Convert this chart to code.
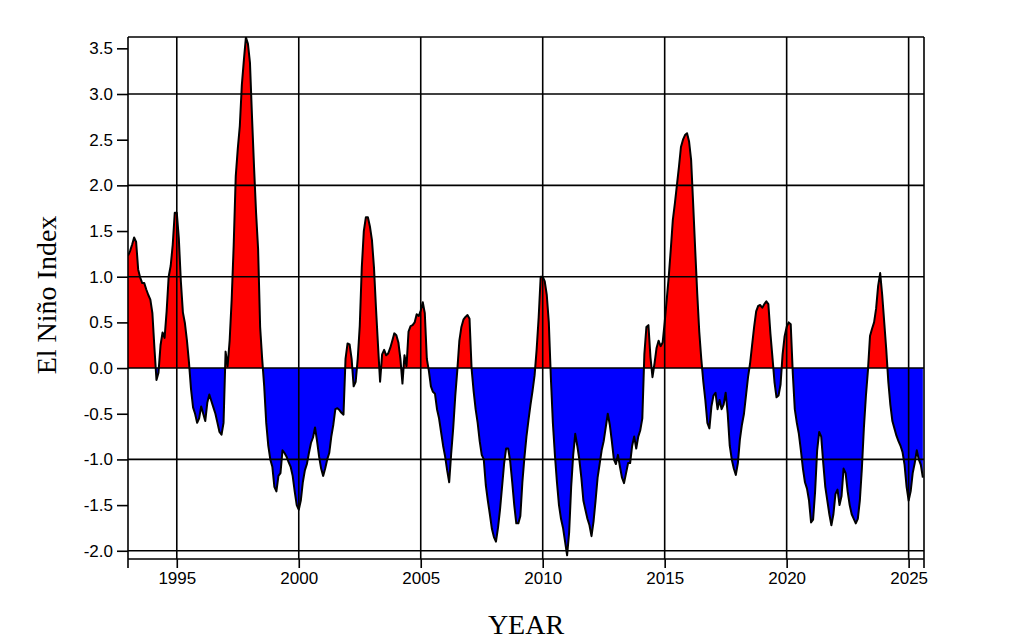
<!DOCTYPE html>
<html lang="en">
  <head>
    <meta charset="UTF-8" />
    <title>El Niño Index</title>
    <style>
      body {
        margin: 0;
        background: #fff;
      }
      .tick text {
        font-family: "Liberation Sans", Arial, sans-serif;
        font-size: 17px;
        fill: #000;
      }
      .title {
        font-family: "Liberation Serif", "Times New Roman", serif;
        font-size: 28px;
        fill: #000;
      }
    </style>
  </head>
  <body>
    <div class="chart"></div>

    <script src="https://d3js.org/d3.v7.min.js"></script>

    <script>
      // monthly index, first value = Jan 1993
      const startYear = 1993;
      const ninoIndex = [
        1.23, 1.28, 1.35, 1.43, 1.38, 1.08, 0.99, 0.93, 0.93, 0.86, 0.8, 0.75,
        0.6, 0.22, -0.13, -0.05, 0.25, 0.39, 0.33, 0.62, 1.0, 1.12, 1.35, 1.7,
        1.7, 1.42, 0.95, 0.61, 0.49, 0.3, 0.06, -0.23, -0.43, -0.5, -0.6, -0.55,
        -0.42, -0.5, -0.58, -0.38, -0.29, -0.36, -0.43, -0.5, -0.6, -0.7, -0.73, -0.6,
        0.18, 0.02, 0.3, 0.75, 1.35, 2.1, 2.4, 2.65, 3.1, 3.37, 3.62, 3.55,
        3.34, 2.75, 2.2, 1.7, 1.3, 0.45, 0.1, -0.2, -0.6, -0.85, -1.0, -1.08,
        -1.3, -1.35, -1.18, -1.15, -0.9, -0.93, -0.97, -1.03, -1.08, -1.18, -1.35, -1.5,
        -1.55, -1.45, -1.25, -1.12, -1.05, -0.93, -0.82, -0.76, -0.65, -0.8, -0.97, -1.1,
        -1.18, -1.1, -1.0, -0.93, -0.75, -0.62, -0.45, -0.44, -0.46, -0.49, -0.51, 0.1,
        0.27, 0.26, 0.1, -0.2, -0.15, 0.1, 0.46, 1.1, 1.5, 1.65, 1.65, 1.55,
        1.4, 1.1, 0.65, 0.24, -0.15, 0.15, 0.2, 0.14, 0.16, 0.22, 0.3, 0.38,
        0.36, 0.28, 0.1, -0.17, 0.14, 0.02, 0.4, 0.46, 0.47, 0.5, 0.59, 0.57,
        0.63, 0.72, 0.6, 0.1, -0.03, -0.2, -0.26, -0.28, -0.45, -0.55, -0.7, -0.85,
        -0.97, -1.12, -1.25, -0.93, -0.65, -0.3, -0.02, 0.3, 0.45, 0.53, 0.56, 0.58,
        0.54, 0.0, -0.25, -0.45, -0.6, -0.8, -0.95, -1.0, -1.28, -1.45, -1.6, -1.76,
        -1.85, -1.9, -1.75, -1.55, -1.3, -1.05, -0.88, -0.88, -1.02, -1.25, -1.5, -1.7,
        -1.7, -1.62, -1.25, -0.98, -0.75, -0.57, -0.4, -0.25, -0.08, 0.2, 0.55, 1.0,
        1.0, 0.95, 0.8, 0.5, -0.1, -0.6, -0.95, -1.25, -1.5, -1.65, -1.75, -1.9,
        -2.05, -1.8, -1.3, -0.95, -0.72, -0.85, -1.0, -1.2, -1.45, -1.55, -1.65, -1.72,
        -1.84, -1.68, -1.45, -1.2, -1.05, -0.9, -0.8, -0.65, -0.5, -0.62, -0.8, -1.0,
        -1.05, -0.95, -1.08, -1.2, -1.26, -1.15, -1.04, -1.04, -0.85, -0.75, -0.88, -0.75,
        -0.68, -0.55, 0.15, 0.45, 0.47, 0.12, -0.1, 0.05, 0.22, 0.3, 0.24, 0.28,
        0.5, 0.75, 1.0, 1.3, 1.62, 1.8, 2.0, 2.2, 2.42, 2.5, 2.55, 2.57,
        2.48, 2.28, 1.8, 1.3, 0.82, 0.4, 0.1, -0.15, -0.35, -0.6, -0.66, -0.42,
        -0.3, -0.27, -0.45, -0.35, -0.45, -0.4, -0.27, -0.5, -0.85, -1.0, -1.1, -1.17,
        -1.04, -0.78, -0.62, -0.5, -0.3, -0.1, 0.05, 0.25, 0.45, 0.62, 0.68, 0.69,
        0.66, 0.7, 0.73, 0.7, 0.38, 0.12, -0.15, -0.32, -0.3, -0.18, 0.15, 0.35,
        0.45, 0.5, 0.48, -0.05, -0.45, -0.6, -0.72, -0.9, -1.1, -1.25, -1.32, -1.45,
        -1.69, -1.66, -1.35, -0.9, -0.7, -0.75, -1.04, -1.3, -1.45, -1.6, -1.72, -1.6,
        -1.38, -1.33, -1.5, -1.4, -1.1, -1.15, -1.35, -1.5, -1.6, -1.65, -1.7, -1.65,
        -1.45, -1.1, -0.65, -0.3, -0.02, 0.35, 0.43, 0.5, 0.65, 0.9, 1.04, 0.8,
        0.5, 0.2, -0.15, -0.4, -0.58, -0.66, -0.74, -0.8, -0.85, -0.92, -1.06, -1.3,
        -1.45, -1.35, -1.15, -1.04, -0.9, -1.0, -1.06, -1.2,
      ];

      const yTicks = [-2.0, -1.5, -1.0, -0.5, 0.0, 0.5, 1.0, 1.5, 2.0, 2.5, 3.0, 3.5];
      const yGrid = [-2, -1, 0, 1, 2, 3];
      const xTicks = [1995, 2000, 2005, 2010, 2015, 2020, 2025];

      const data = ninoIndex.map((v, i) => ({ t: startYear + i / 12, v: v }));

      const w = 1024;
      const h = 640;
      const margin = { top: 37, right: 924, bottom: 559, left: 128 };

      const svg = d3
        .select(".chart")
        .append("svg")
        .attr("width", w)
        .attr("height", h);

      const xScale = d3
        .scaleLinear()
        .domain([1993, 2025.63])
        .range([margin.left, margin.right]);
      const yScale = d3
        .scaleLinear()
        .domain([-2.09, 3.624])
        .range([margin.bottom, margin.top]);

      const plotW = margin.right - margin.left;
      const zeroY = yScale(0);

      // clip areas above / below zero
      const defs = svg.append("defs");
      defs
        .append("clipPath")
        .attr("id", "above")
        .append("rect")
        .attr("x", margin.left)
        .attr("y", margin.top)
        .attr("width", plotW)
        .attr("height", zeroY - margin.top);
      defs
        .append("clipPath")
        .attr("id", "below")
        .append("rect")
        .attr("x", margin.left)
        .attr("y", zeroY)
        .attr("width", plotW)
        .attr("height", margin.bottom - zeroY);
      defs
        .append("clipPath")
        .attr("id", "plot")
        .append("rect")
        .attr("x", margin.left)
        .attr("y", margin.top)
        .attr("width", plotW)
        .attr("height", margin.bottom - margin.top);

      const area = d3
        .area()
        .x((d) => xScale(d.t))
        .y0(zeroY)
        .y1((d) => yScale(d.v));

      const line = d3
        .line()
        .x((d) => xScale(d.t))
        .y((d) => yScale(d.v));

      svg
        .append("path")
        .datum(data)
        .attr("clip-path", "url(#above)")
        .attr("d", area)
        .attr("fill", "#ff0000");

      svg
        .append("path")
        .datum(data)
        .attr("clip-path", "url(#below)")
        .attr("d", area)
        .attr("fill", "#0000ff");

      svg
        .append("path")
        .datum(data)
        .attr("clip-path", "url(#plot)")
        .attr("d", line)
        .attr("fill", "none")
        .attr("stroke", "#000")
        .attr("stroke-width", 2)
        .attr("stroke-linejoin", "round");

      // grid lines
      svg
        .append("g")
        .selectAll("line")
        .data(yGrid)
        .enter()
        .append("line")
        .attr("x1", margin.left)
        .attr("x2", margin.right)
        .attr("y1", (d) => yScale(d))
        .attr("y2", (d) => yScale(d))
        .attr("stroke", "#000")
        .attr("stroke-width", 1.6);

      svg
        .append("g")
        .selectAll("line")
        .data(xTicks)
        .enter()
        .append("line")
        .attr("x1", (d) => xScale(d))
        .attr("x2", (d) => xScale(d))
        .attr("y1", margin.top)
        .attr("y2", margin.bottom)
        .attr("stroke", "#000")
        .attr("stroke-width", 1.6);

      // frame
      const frame = svg.append("g").attr("stroke", "#000").attr("stroke-width", 1.6);
      frame
        .append("line")
        .attr("x1", margin.left)
        .attr("x2", margin.right)
        .attr("y1", margin.top)
        .attr("y2", margin.top);
      frame
        .append("line")
        .attr("x1", margin.left)
        .attr("x2", margin.right)
        .attr("y1", margin.bottom)
        .attr("y2", margin.bottom);
      frame
        .append("line")
        .attr("x1", margin.left)
        .attr("x2", margin.left)
        .attr("y1", margin.top)
        .attr("y2", margin.bottom + 9);
      frame
        .append("line")
        .attr("x1", margin.right)
        .attr("x2", margin.right)
        .attr("y1", margin.top)
        .attr("y2", margin.bottom + 9);

      // Y 軸
      const yAxis = d3
        .axisLeft(yScale)
        .tickValues(yTicks)
        .tickFormat((d) => d.toFixed(1))
        .tickSize(11)
        .tickSizeOuter(0)
        .tickPadding(4);

      svg
        .append("g")
        .attr("transform", `translate(${margin.left}, 0)`)
        .call(yAxis)
        .call((g) => g.select(".domain").remove())
        .call((g) => g.selectAll(".tick line").attr("stroke-width", 1.6));

      // X 軸
      const xAxis = d3
        .axisBottom(xScale)
        .tickValues(xTicks)
        .tickFormat(d3.format("d"))
        .tickSize(9)
        .tickSizeOuter(0)
        .tickPadding(4);

      svg
        .append("g")
        .attr("transform", `translate(0, ${margin.bottom})`)
        .call(xAxis)
        .call((g) => g.select(".domain").remove())
        .call((g) => g.selectAll(".tick line").attr("stroke-width", 1.6));

      // titles
      svg
        .append("text")
        .attr("class", "title")
        .attr("x", 526)
        .attr("y", 634)
        .attr("text-anchor", "middle")
        .text("YEAR");

      svg
        .append("text")
        .attr("class", "title")
        .attr("transform", "translate(56, 295) rotate(-90)")
        .attr("text-anchor", "middle")
        .text("El Niño Index");
    </script>
  </body>
</html>
